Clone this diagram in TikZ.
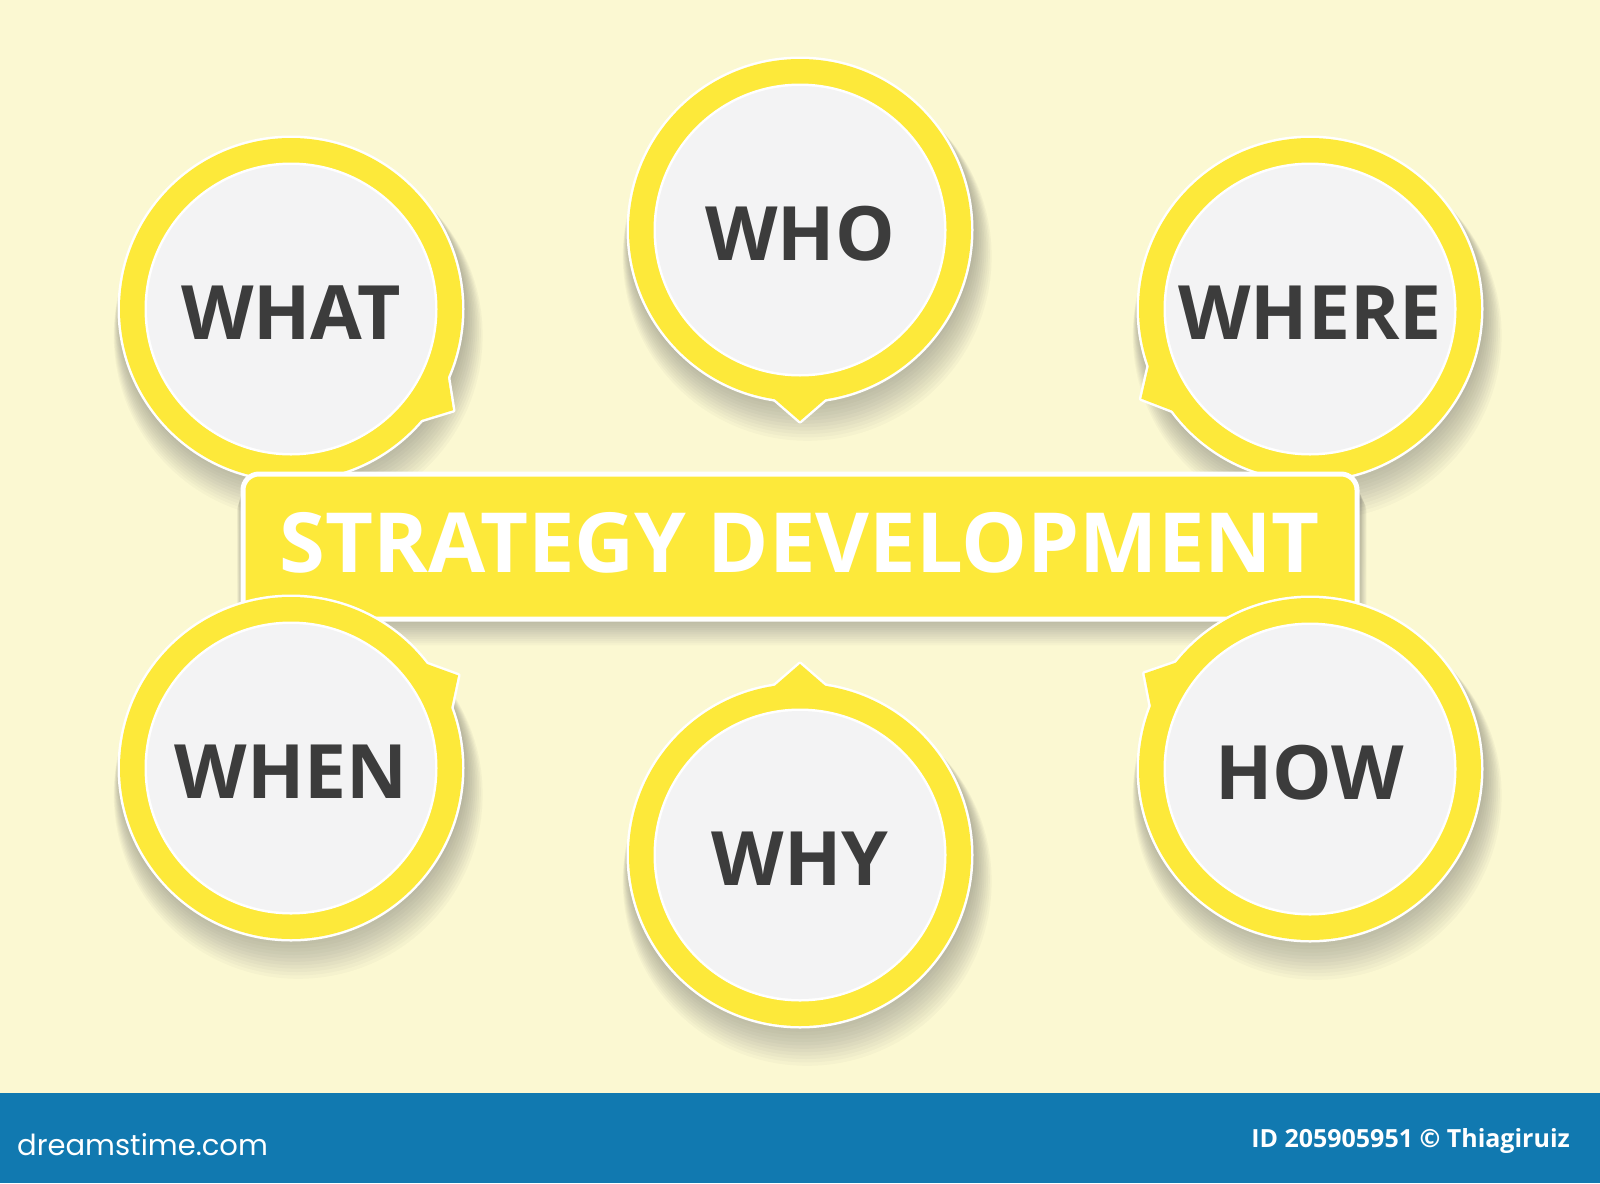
\documentclass[tikz,border=0pt]{standalone}
\usepackage{fontspec}
\setmainfont{Open Sans}
\newfontfamily\logofont{Poppins}
\definecolor{bgyellow}{RGB}{251,248,210}
\definecolor{ringyellow}{RGB}{253,233,58}
\definecolor{discgray}{RGB}{243,243,244}
\definecolor{wordgray}{RGB}{60,60,60}
\definecolor{barblue}{RGB}{17,121,176}
\definecolor{shade}{RGB}{110,100,30}
\tikzset{
  word/.style={font=\bfseries\fontsize{75}{80}\selectfont, text=wordgray, inner sep=0pt},
  title/.style={font=\bfseries\fontsize{83}{90}\selectfont, text=white, inner sep=0pt},
  rim/.style={draw=white, line width=5, line join=round},
}
% bubble: name, x, y, tab angle, word
\newcommand{\bubble}[5]{
  \foreach \k in {1,...,12}
    \fill[shade, opacity=0.022] (#2+0.6*\k,#3+2.2*\k) circle (170+1.2*\k);
  \begin{scope}[shift={(#2,#3)}]
    \path[rim, fill=white] (0,0) circle (171);
    \path[rim, fill=white] (#4+9:170) -- (#4:191) -- (#4-9:170) -- cycle;
    \fill[ringyellow] (0,0) circle (171);
    \fill[ringyellow] (#4+9:170) -- (#4:191) -- (#4-9:170) -- cycle;
    \fill[white] (0,0) circle (146.5);
    \fill[discgray] (0,0) circle (144);
  \end{scope}
  \node[word] (#1) at (#2,#3+4) {#5};
}
\begin{document}
\begin{tikzpicture}[x=1pt,y=-1pt]
\useasboundingbox (0,0) rectangle (1600,1183);
\fill[bgyellow] (0,0) rectangle (1600,1093);
\fill[barblue] (0,1093) rectangle (1600,1183);
% top row
\bubble{what}{291}{309}{32}{WHAT}
\bubble{who}{800}{230}{90}{WHO}
\bubble{where}{1310}{309}{152}{WHERE}
% banner
\foreach \k in {1,...,12}
  \fill[shade, opacity=0.022, rounded corners=16] (243-0.5*\k,474+1.8*\k) rectangle (1357+0.8*\k,619+2.2*\k);
\draw[rim, fill=ringyellow, rounded corners=16] (243,474) rectangle (1357,619);
\node[title] (strategy) at (800,543) {STRATEGY DEVELOPMENT};
% bottom row
\bubble{when}{291}{768}{-29}{WHEN}
\bubble{why}{800}{855}{-90}{WHY}
\bubble{how}{1310}{769}{-150}{HOW}
% footer
\node[anchor=base west, font=\logofont\fontsize{29}{30}\selectfont, text=white, inner sep=0pt] (logo) at (17,1155) {dreamstime.com};
\node[anchor=base east, font=\bfseries\fontsize{25}{30}\selectfont, text=white, inner sep=0pt] (credit) at (1570,1147) {ID 205905951 © Thiagiruiz};
\end{tikzpicture}
\end{document}
